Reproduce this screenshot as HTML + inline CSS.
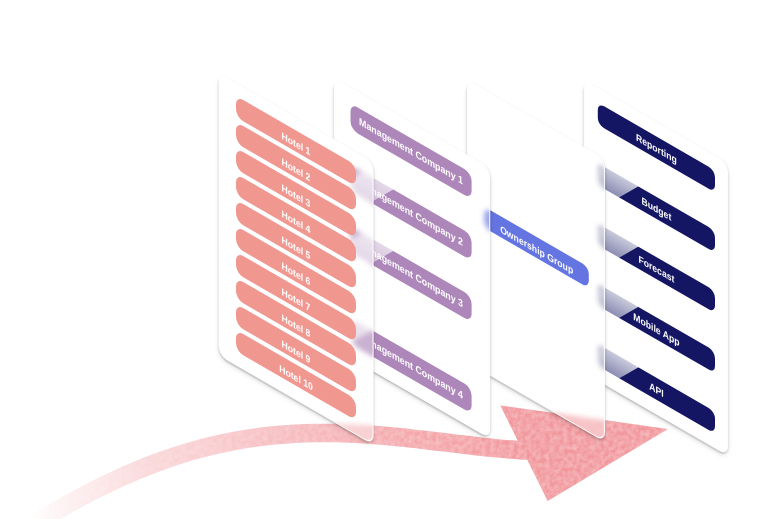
<!DOCTYPE html><html><head><meta charset="utf-8"><title>Hierarchy</title><style>html,body{margin:0;padding:0;background:#fff;overflow:hidden}svg{display:block}</style></head><body><svg width="768" height="519" viewBox="0 0 768 519">
<defs>
<filter id="blur" x="-20%" y="-20%" width="140%" height="140%"><feGaussianBlur stdDeviation="2.8"/></filter>
<filter id="shadow" x="-10%" y="-10%" width="120%" height="120%"><feGaussianBlur stdDeviation="0.9"/></filter>
<filter id="shadow2" x="-10%" y="-10%" width="120%" height="120%"><feGaussianBlur stdDeviation="2.5"/></filter>
<linearGradient id="ag" gradientUnits="userSpaceOnUse" x1="30" y1="0" x2="520" y2="0"><stop offset="0.000" stop-color="#F2969B" stop-opacity="0.00"/><stop offset="0.060" stop-color="#F2969B" stop-opacity="0.11"/><stop offset="0.143" stop-color="#F2969B" stop-opacity="0.23"/><stop offset="0.245" stop-color="#F2969B" stop-opacity="0.38"/><stop offset="0.347" stop-color="#F2969B" stop-opacity="0.46"/><stop offset="0.490" stop-color="#F2969B" stop-opacity="0.61"/><stop offset="0.755" stop-color="#F2969B" stop-opacity="0.82"/><stop offset="0.950" stop-color="#F2969B" stop-opacity="0.93"/><stop offset="1.000" stop-color="#F2969B" stop-opacity="1.00"/></linearGradient>
<linearGradient id="lg2" x1="0" y1="0" x2="0" y2="1"><stop offset="0" stop-color="#fff" stop-opacity="0.68"/><stop offset="1" stop-color="#fff" stop-opacity="0.48"/></linearGradient>
<linearGradient id="lg4" x1="0" y1="0" x2="0" y2="1"><stop offset="0" stop-color="#fff" stop-opacity="0.78"/><stop offset="1" stop-color="#fff" stop-opacity="0.50"/></linearGradient>
<clipPath id="cp1"><rect transform="matrix(1,0.57735,0,1,219.00,73.10)" x="0" y="0" width="154.10" height="282.20" rx="8.10" ry="9.00" /></clipPath>
<clipPath id="cp2"><rect transform="matrix(1,0.57735,0,1,334.50,78.30)" x="0" y="0" width="155.20" height="270.20" rx="8.10" ry="9.00" /></clipPath>
<clipPath id="cp3"><rect transform="matrix(1,0.57735,0,1,467.40,80.10)" x="0" y="0" width="137.10" height="282.00" rx="8.10" ry="9.00" /></clipPath>
<clipPath id="cp4"><rect transform="matrix(1,0.57735,0,1,584.30,80.30)" x="0" y="0" width="143.30" height="292.20" rx="8.10" ry="9.00" /></clipPath>
<clipPath id="pc2"><rect x="16.00" y="15.70" width="121.10" height="26.00" rx="7.20" ry="8.00"/><rect x="16.00" y="77.20" width="121.10" height="26.00" rx="7.20" ry="8.00"/><rect x="16.00" y="138.70" width="121.10" height="26.00" rx="7.20" ry="8.00"/><rect x="16.00" y="230.20" width="121.10" height="26.00" rx="7.20" ry="8.00"/></clipPath>
<clipPath id="pc4"><rect x="13.50" y="14.60" width="117.20" height="22.00" rx="6.30" ry="7.00"/><rect x="13.50" y="74.90" width="117.20" height="22.00" rx="6.30" ry="7.00"/><rect x="13.50" y="135.20" width="117.20" height="22.00" rx="6.30" ry="7.00"/><rect x="13.50" y="195.50" width="117.20" height="22.00" rx="6.30" ry="7.00"/><rect x="13.50" y="255.80" width="117.20" height="22.00" rx="6.30" ry="7.00"/></clipPath>
<filter id="tex" filterUnits="userSpaceOnUse" x="0" y="380" width="768" height="139"><feTurbulence type="fractalNoise" baseFrequency="0.22" numOctaves="2" seed="4" result="n"/><feColorMatrix in="n" type="matrix" values="0 0 0 0 1  0 0 0 0 1  0 0 0 0 1  0.45 0 0 0 -0.12" result="w"/><feComposite in="w" in2="SourceAlpha" operator="in" result="wc"/><feMerge><feMergeNode in="SourceGraphic"/><feMergeNode in="wc"/></feMerge></filter>
<g id="arrow" filter="url(#tex)"><path d="M15.00,536.02 C18.33,533.93 28.33,527.56 35.00,523.48 C41.67,519.40 48.33,515.41 55.00,511.54 C61.67,507.67 68.33,503.90 75.00,500.26 C81.67,496.63 88.33,493.11 95.00,489.73 C101.67,486.36 108.33,483.11 115.00,480.02 C121.67,476.92 128.33,473.97 135.00,471.17 C141.67,468.37 148.33,465.71 155.00,463.22 C161.67,460.72 168.33,458.38 175.00,456.20 C181.67,454.02 188.33,451.99 195.00,450.13 C201.67,448.26 208.33,446.56 215.00,445.01 C221.67,443.46 228.33,442.07 235.00,440.84 C241.67,439.60 248.33,438.52 255.00,437.59 C261.67,436.66 268.33,435.88 275.00,435.24 C281.67,434.60 288.33,434.11 295.00,433.75 C301.67,433.38 308.33,433.16 315.00,433.05 C321.67,432.94 328.33,432.97 335.00,433.09 C341.67,433.21 348.33,433.46 355.00,433.79 C361.67,434.12 368.33,434.55 375.00,435.05 C381.67,435.55 388.33,436.15 395.00,436.79 C401.67,437.42 408.33,438.14 415.00,438.87 C421.67,439.61 428.33,440.40 435.00,441.19 C441.67,441.98 448.33,442.80 455.00,443.60 C461.67,444.39 468.33,445.20 475.00,445.95 C481.67,446.70 488.33,447.44 495.00,448.09 C501.67,448.74 508.17,449.35 515.00,449.85 C521.83,450.35 532.50,450.87 536.00,451.08" fill="none" stroke="url(#ag)" stroke-width="18.5"/><path d="M500.3,405.4 L667.9,429.1 L547.7,500.9 Z" fill="#F2969B"/></g>
<g id="pl2"><g transform="matrix(1,0.57735,0,1,334.50,78.30)"><rect x="16.00" y="15.70" width="121.10" height="26.00" rx="7.20" ry="8.00" fill="#AD87BA"/><rect x="16.00" y="77.20" width="121.10" height="26.00" rx="7.20" ry="8.00" fill="#AD87BA"/><rect x="16.00" y="138.70" width="121.10" height="26.00" rx="7.20" ry="8.00" fill="#AD87BA"/><rect x="16.00" y="230.20" width="121.10" height="26.00" rx="7.20" ry="8.00" fill="#AD87BA"/></g><g transform="matrix(1,0.57735,0,1,334.50,78.30)"><polygon points="28.49,76.40 59.49,76.40 35.59,104.00 4.59,104.00" fill="url(#lg2)"/><polygon points="28.49,137.90 59.49,137.90 35.59,165.50 4.59,165.50" fill="url(#lg2)"/><polygon points="7.19,229.40 38.19,229.40 14.29,257.00 -16.71,257.00" fill="url(#lg2)"/></g></g>
<g id="pl3"><g transform="matrix(1,0.57735,0,1,467.40,80.10)"><rect x="17.10" y="116.90" width="104.30" height="21.00" rx="6.30" ry="7.00" fill="#6474E1"/></g><g transform="matrix(1,0.57735,0,1,467.40,80.10)"></g></g>
<g id="pl4"><g transform="matrix(1,0.57735,0,1,584.30,80.30)"><rect x="13.50" y="14.60" width="117.20" height="22.00" rx="6.30" ry="7.00" fill="#141664"/><rect x="13.50" y="74.90" width="117.20" height="22.00" rx="6.30" ry="7.00" fill="#141664"/><rect x="13.50" y="135.20" width="117.20" height="22.00" rx="6.30" ry="7.00" fill="#141664"/><rect x="13.50" y="195.50" width="117.20" height="22.00" rx="6.30" ry="7.00" fill="#141664"/><rect x="13.50" y="255.80" width="117.20" height="22.00" rx="6.30" ry="7.00" fill="#141664"/></g><g transform="matrix(1,0.57735,0,1,584.30,80.30)"><polygon points="20.19,74.10 54.69,74.10 34.25,97.70 -0.25,97.70" fill="url(#lg4)"/><polygon points="20.19,134.40 54.69,134.40 34.25,158.00 -0.25,158.00" fill="url(#lg4)"/><polygon points="20.19,194.70 54.69,194.70 34.25,218.30 -0.25,218.30" fill="url(#lg4)"/><polygon points="20.19,255.00 54.69,255.00 34.25,278.60 -0.25,278.60" fill="url(#lg4)"/></g></g>
</defs>
<rect width="768" height="519" fill="#fff"/>
<use href="#arrow"/>
<g transform="translate(0,3)" filter="url(#shadow2)" opacity="0.13"><rect transform="matrix(1,0.57735,0,1,584.30,80.30)" x="0" y="0" width="143.30" height="292.20" rx="8.10" ry="9.00" fill="#000"/></g><g transform="translate(0,1.2)" filter="url(#shadow)" opacity="0.31"><rect transform="matrix(1,0.57735,0,1,584.30,80.30)" x="0" y="0" width="143.30" height="292.20" rx="8.10" ry="9.00" fill="#000"/></g><rect transform="matrix(1,0.57735,0,1,584.30,80.30)" x="0" y="0" width="143.30" height="292.20" rx="8.10" ry="9.00" fill="#fff"/><rect transform="matrix(1,0.57735,0,1,584.30,80.30)" x="0" y="0" width="143.30" height="292.20" rx="8.10" ry="9.00" fill="none" stroke="#fff" stroke-opacity="0.85" stroke-width="1.2"/><use href="#pl4"/><g font-family="'Liberation Sans', Arial, sans-serif" font-weight="bold" font-size="10" fill="#fff" opacity="0.97"><text transform="matrix(0.866,0.5,0,1,656.40,152.03)" text-anchor="middle">Reporting</text><text transform="matrix(0.866,0.5,0,1,656.40,212.33)" text-anchor="middle">Budget</text><text transform="matrix(0.866,0.5,0,1,656.40,272.63)" text-anchor="middle">Forecast</text><text transform="matrix(0.866,0.5,0,1,656.40,332.93)" text-anchor="middle">Mobile App</text><text transform="matrix(0.866,0.5,0,1,656.40,393.23)" text-anchor="middle">API</text></g>
<g transform="translate(0,3)" filter="url(#shadow2)" opacity="0.13"><rect transform="matrix(1,0.57735,0,1,467.40,80.10)" x="0" y="0" width="137.10" height="282.00" rx="8.10" ry="9.00" fill="#000"/></g><g transform="translate(0,1.2)" filter="url(#shadow)" opacity="0.31"><rect transform="matrix(1,0.57735,0,1,467.40,80.10)" x="0" y="0" width="137.10" height="282.00" rx="8.10" ry="9.00" fill="#000"/></g><rect transform="matrix(1,0.57735,0,1,467.40,80.10)" x="0" y="0" width="137.10" height="282.00" rx="8.10" ry="9.00" fill="#fff"/><g clip-path="url(#cp3)"><g filter="url(#blur)"><use href="#arrow"/><use href="#pl4"/></g><rect transform="matrix(1,0.57735,0,1,467.40,80.10)" x="0" y="0" width="137.10" height="282.00" rx="8.10" ry="9.00" fill="#fff" fill-opacity="0.35"/></g><rect transform="matrix(1,0.57735,0,1,467.40,80.10)" x="0" y="0" width="137.10" height="282.00" rx="8.10" ry="9.00" fill="none" stroke="#fff" stroke-opacity="0.85" stroke-width="1.2"/><use href="#pl3"/><g font-family="'Liberation Sans', Arial, sans-serif" font-weight="bold" font-size="10" fill="#fff" opacity="0.97"><text transform="matrix(0.866,0.5,0,1,536.65,253.28)" text-anchor="middle">Ownership Group</text></g>
<g transform="translate(0,3)" filter="url(#shadow2)" opacity="0.13"><rect transform="matrix(1,0.57735,0,1,334.50,78.30)" x="0" y="0" width="155.20" height="270.20" rx="8.10" ry="9.00" fill="#000"/></g><g transform="translate(0,1.2)" filter="url(#shadow)" opacity="0.31"><rect transform="matrix(1,0.57735,0,1,334.50,78.30)" x="0" y="0" width="155.20" height="270.20" rx="8.10" ry="9.00" fill="#000"/></g><rect transform="matrix(1,0.57735,0,1,334.50,78.30)" x="0" y="0" width="155.20" height="270.20" rx="8.10" ry="9.00" fill="#fff"/><g clip-path="url(#cp2)"><g filter="url(#blur)"><use href="#arrow"/><use href="#pl3"/></g><rect transform="matrix(1,0.57735,0,1,334.50,78.30)" x="0" y="0" width="155.20" height="270.20" rx="8.10" ry="9.00" fill="#fff" fill-opacity="0.35"/></g><rect transform="matrix(1,0.57735,0,1,334.50,78.30)" x="0" y="0" width="155.20" height="270.20" rx="8.10" ry="9.00" fill="none" stroke="#fff" stroke-opacity="0.85" stroke-width="1.2"/><use href="#pl2"/><g font-family="'Liberation Sans', Arial, sans-serif" font-weight="bold" font-size="10" fill="#fff" opacity="0.97"><text transform="matrix(0.866,0.5,0,1,411.05,154.60)" text-anchor="middle" font-size="10.2">Management Company 1</text><text transform="matrix(0.866,0.5,0,1,411.05,216.10)" text-anchor="middle" font-size="10.2">Management Company 2</text><text transform="matrix(0.866,0.5,0,1,411.05,277.60)" text-anchor="middle" font-size="10.2">Management Company 3</text><text transform="matrix(0.866,0.5,0,1,411.05,369.10)" text-anchor="middle" font-size="10.2">Management Company 4</text></g>
<g transform="translate(0,3)" filter="url(#shadow2)" opacity="0.13"><rect transform="matrix(1,0.57735,0,1,219.00,73.10)" x="0" y="0" width="154.10" height="282.20" rx="8.10" ry="9.00" fill="#000"/></g><g transform="translate(0,1.2)" filter="url(#shadow)" opacity="0.31"><rect transform="matrix(1,0.57735,0,1,219.00,73.10)" x="0" y="0" width="154.10" height="282.20" rx="8.10" ry="9.00" fill="#000"/></g><rect transform="matrix(1,0.57735,0,1,219.00,73.10)" x="0" y="0" width="154.10" height="282.20" rx="8.10" ry="9.00" fill="#fff"/><g clip-path="url(#cp1)"><g filter="url(#blur)"><use href="#arrow"/><use href="#pl2"/></g><rect transform="matrix(1,0.57735,0,1,219.00,73.10)" x="0" y="0" width="154.10" height="282.20" rx="8.10" ry="9.00" fill="#fff" fill-opacity="0.35"/></g><rect transform="matrix(1,0.57735,0,1,219.00,73.10)" x="0" y="0" width="154.10" height="282.20" rx="8.10" ry="9.00" fill="none" stroke="#fff" stroke-opacity="0.85" stroke-width="1.2"/><g transform="matrix(1,0.57735,0,1,219.00,73.10)"><rect x="17.00" y="13.00" width="120.00" height="21.20" rx="7.20" ry="8.00" fill="#F09790"/><rect x="17.00" y="39.00" width="120.00" height="21.20" rx="7.20" ry="8.00" fill="#F09790"/><rect x="17.00" y="65.00" width="120.00" height="21.20" rx="7.20" ry="8.00" fill="#F09790"/><rect x="17.00" y="91.00" width="120.00" height="21.20" rx="7.20" ry="8.00" fill="#F09790"/><rect x="17.00" y="117.00" width="120.00" height="21.20" rx="7.20" ry="8.00" fill="#F09790"/><rect x="17.00" y="143.00" width="120.00" height="21.20" rx="7.20" ry="8.00" fill="#F09790"/><rect x="17.00" y="169.00" width="120.00" height="21.20" rx="7.20" ry="8.00" fill="#F09790"/><rect x="17.00" y="195.00" width="120.00" height="21.20" rx="7.20" ry="8.00" fill="#F09790"/><rect x="17.00" y="221.00" width="120.00" height="21.20" rx="7.20" ry="8.00" fill="#F09790"/><rect x="17.00" y="247.00" width="120.00" height="21.20" rx="7.20" ry="8.00" fill="#F09790"/></g><g font-family="'Liberation Sans', Arial, sans-serif" font-weight="bold" font-size="10" fill="#fff" opacity="0.97"><text transform="matrix(0.866,0.5,0,1,296.00,147.16)" text-anchor="middle">Hotel 1</text><text transform="matrix(0.866,0.5,0,1,296.00,173.16)" text-anchor="middle">Hotel 2</text><text transform="matrix(0.866,0.5,0,1,296.00,199.16)" text-anchor="middle">Hotel 3</text><text transform="matrix(0.866,0.5,0,1,296.00,225.16)" text-anchor="middle">Hotel 4</text><text transform="matrix(0.866,0.5,0,1,296.00,251.16)" text-anchor="middle">Hotel 5</text><text transform="matrix(0.866,0.5,0,1,296.00,277.16)" text-anchor="middle">Hotel 6</text><text transform="matrix(0.866,0.5,0,1,296.00,303.16)" text-anchor="middle">Hotel 7</text><text transform="matrix(0.866,0.5,0,1,296.00,329.16)" text-anchor="middle">Hotel 8</text><text transform="matrix(0.866,0.5,0,1,296.00,355.16)" text-anchor="middle">Hotel 9</text><text transform="matrix(0.866,0.5,0,1,296.00,381.16)" text-anchor="middle">Hotel 10</text></g>
</svg></body></html>
